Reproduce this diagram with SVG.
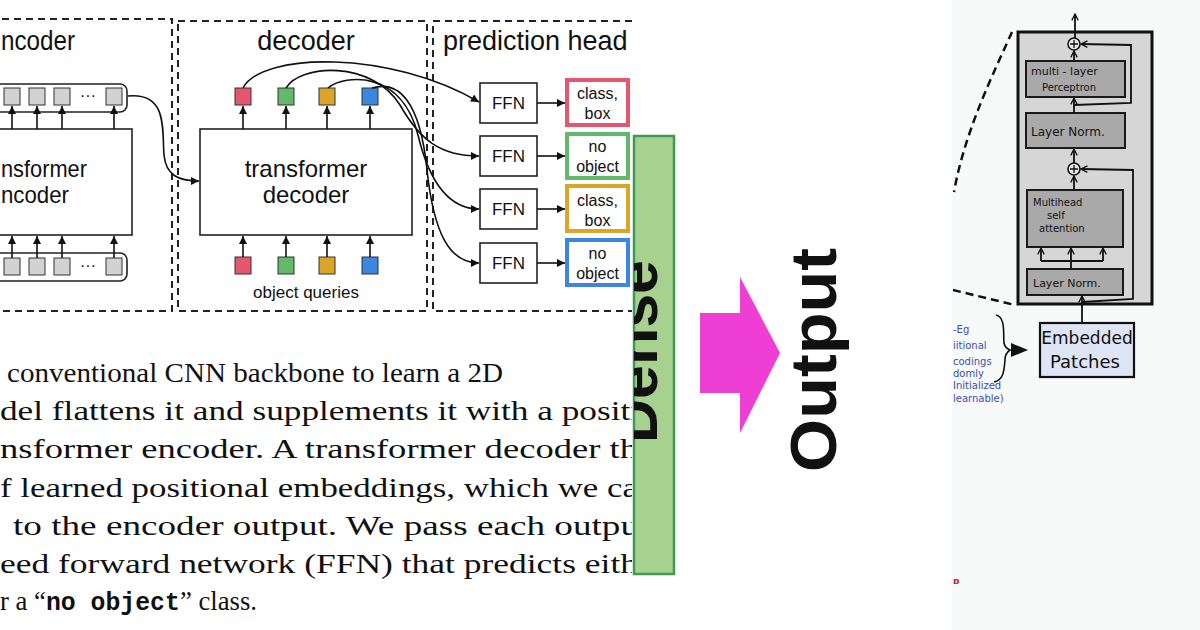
<svg xmlns="http://www.w3.org/2000/svg" width="1200" height="630" viewBox="0 0 1200 630">
<style>
.sans{font-family:"Liberation Sans",Arial,sans-serif;fill:#111}
.hd{font-size:27px}
.box{fill:#fff;stroke:#222;stroke-width:1.6}
.sq{stroke:#333;stroke-width:1}
.gray{fill:#d2d2d2}
.dash{fill:none;stroke:#222;stroke-width:2;stroke-dasharray:7 5}
.conn{fill:none;stroke:#111;stroke-width:1.6}
.para{font-family:"Liberation Serif","Times New Roman",serif;font-size:28px;fill:#111}
.mono{font-family:"Liberation Mono","Courier New",monospace}
.hand{font-family:"DejaVu Sans",sans-serif;fill:#111}
.blue{font-family:"DejaVu Sans",sans-serif;fill:#3a4fb0;font-size:10px}
.hbox{fill:#a9a9a9;stroke:#1a1a1a;stroke-width:2}
.hl{fill:none;stroke:#111;stroke-width:1.8}
</style>
<defs>
<marker id="ah" viewBox="0 0 10 10" refX="10" refY="5" markerWidth="9" markerHeight="8" markerUnits="userSpaceOnUse" orient="auto"><path d="M0,0 L10,5 L0,10 z" fill="#111"/></marker>
<marker id="ch" viewBox="0 0 10 10" refX="9" refY="5" markerWidth="8" markerHeight="8" markerUnits="userSpaceOnUse" orient="auto"><path d="M1,1 L9,5 L1,9" fill="none" stroke="#111" stroke-width="1.6"/></marker>
<clipPath id="leftclip"><rect x="0" y="0" width="632" height="630"/></clipPath>
<clipPath id="denseclip"><rect x="634" y="136" width="40" height="438"/></clipPath>
</defs>
<rect x="0" y="0" width="1200" height="630" fill="#fff"/>
<rect x="952" y="0" width="248" height="630" fill="#f8f9f9"/>

<g clip-path="url(#leftclip)">
 <g id="frames">
  <rect class="dash" x="-10" y="19" width="182" height="292"/>
  <rect class="dash" x="178" y="21" width="249" height="290"/>
  <rect class="dash" x="433" y="21" width="220" height="290"/>
  <text class="sans hd" x="1" y="50" textLength="74" lengthAdjust="spacingAndGlyphs">ncoder</text>
  <text class="sans hd" x="306" y="50" text-anchor="middle">decoder</text>
  <text class="sans hd" x="443" y="50">prediction head</text>
 </g>
 <g id="encoder-out">
  <rect x="-12" y="84" width="139" height="28" rx="7" fill="#fff" stroke="#222" stroke-width="1.6"/>
  <rect class="sq gray" x="4" y="88" width="16" height="17"/>
  <rect class="sq gray" x="29" y="88" width="16" height="17"/>
  <rect class="sq gray" x="54" y="88" width="16" height="17"/>
  <text class="sans" x="88" y="101" font-size="16" text-anchor="middle">···</text>
  <rect class="sq gray" x="106" y="88" width="16" height="17"/>
 </g>
 <g id="encoder">
  <rect class="box" x="-80" y="129" width="212" height="106"/>
  <text class="sans" x="1" y="177" font-size="24" textLength="86" lengthAdjust="spacingAndGlyphs">nsformer</text>
  <text class="sans" x="1" y="203" font-size="24" textLength="68" lengthAdjust="spacingAndGlyphs">ncoder</text>
 </g>
 <g id="encoder-in">
  <rect x="-12" y="253" width="139" height="28" rx="7" fill="#fff" stroke="#222" stroke-width="1.6"/>
  <rect class="sq gray" x="4" y="258" width="16" height="17"/>
  <rect class="sq gray" x="29" y="258" width="16" height="17"/>
  <rect class="sq gray" x="54" y="258" width="16" height="17"/>
  <text class="sans" x="88" y="271" font-size="16" text-anchor="middle">···</text>
  <rect class="sq gray" x="106" y="258" width="16" height="17"/>
 </g>
 <g id="decoder">
  <rect class="box" x="200" y="129" width="212" height="106"/>
  <text class="sans" x="306" y="177" font-size="24" text-anchor="middle">transformer</text>
  <text class="sans" x="306" y="203" font-size="24" text-anchor="middle">decoder</text>
 </g>
 <g id="decoder-out">
  <rect class="sq" fill="#e5576f" x="235" y="88" width="16" height="17"/>
  <rect class="sq" fill="#62b86b" x="278" y="88" width="16" height="17"/>
  <rect class="sq" fill="#daa52a" x="319" y="88" width="16" height="17"/>
  <rect class="sq" fill="#3a86e0" x="362" y="88" width="16" height="17"/>
 </g>
 <g id="object-queries">
  <rect class="sq" fill="#e5576f" x="235" y="257" width="16" height="17"/>
  <rect class="sq" fill="#62b86b" x="278" y="257" width="16" height="17"/>
  <rect class="sq" fill="#daa52a" x="319" y="257" width="16" height="17"/>
  <rect class="sq" fill="#3a86e0" x="362" y="257" width="16" height="17"/>
  <text class="sans" x="306" y="298" font-size="17" text-anchor="middle">object queries</text>
 </g>
 <g id="ffn1"><rect class="box" x="480" y="83" width="57" height="40"/><text class="sans" x="508.5" y="109" font-size="17" text-anchor="middle">FFN</text></g>
 <g id="ffn2"><rect class="box" x="480" y="136" width="57" height="40"/><text class="sans" x="508.5" y="162" font-size="17" text-anchor="middle">FFN</text></g>
 <g id="ffn3"><rect class="box" x="480" y="189" width="57" height="40"/><text class="sans" x="508.5" y="215" font-size="17" text-anchor="middle">FFN</text></g>
 <g id="ffn4"><rect class="box" x="480" y="243" width="57" height="40"/><text class="sans" x="508.5" y="269" font-size="17" text-anchor="middle">FFN</text></g>
 <g id="out1"><rect x="567" y="80" width="61" height="45" fill="#fff" stroke="#e5576f" stroke-width="4"/><text class="sans" x="597.5" y="99" font-size="16" text-anchor="middle">class,</text><text class="sans" x="597.5" y="119" font-size="16" text-anchor="middle">box</text></g>
 <g id="out2"><rect x="567" y="134" width="61" height="44" fill="#fff" stroke="#62b86b" stroke-width="4"/><text class="sans" x="597.5" y="152" font-size="16" text-anchor="middle">no</text><text class="sans" x="597.5" y="172" font-size="16" text-anchor="middle">object</text></g>
 <g id="out3"><rect x="567" y="186" width="61" height="45" fill="#fff" stroke="#daa52a" stroke-width="4"/><text class="sans" x="597.5" y="206" font-size="16" text-anchor="middle">class,</text><text class="sans" x="597.5" y="226" font-size="16" text-anchor="middle">box</text></g>
 <g id="out4"><rect x="567" y="240" width="61" height="45" fill="#fff" stroke="#3a86e0" stroke-width="4"/><text class="sans" x="597.5" y="259" font-size="16" text-anchor="middle">no</text><text class="sans" x="597.5" y="279" font-size="16" text-anchor="middle">object</text></g>

 <g id="connectors">
  <line class="conn" x1="12" y1="129" x2="12" y2="106" marker-end="url(#ah)"/>
  <line class="conn" x1="37" y1="129" x2="37" y2="106" marker-end="url(#ah)"/>
  <line class="conn" x1="62" y1="129" x2="62" y2="106" marker-end="url(#ah)"/>
  <line class="conn" x1="114" y1="129" x2="114" y2="106" marker-end="url(#ah)"/>
  <line class="conn" x1="12" y1="258" x2="12" y2="236" marker-end="url(#ah)"/>
  <line class="conn" x1="37" y1="258" x2="37" y2="236" marker-end="url(#ah)"/>
  <line class="conn" x1="62" y1="258" x2="62" y2="236" marker-end="url(#ah)"/>
  <line class="conn" x1="114" y1="258" x2="114" y2="236" marker-end="url(#ah)"/>
  <path class="conn" d="M128,96 C168,92 162,130 164,155 C166,175 178,181 199,181" marker-end="url(#ah)"/>
  <line class="conn" x1="243" y1="129" x2="243" y2="106" marker-end="url(#ah)"/>
  <line class="conn" x1="286" y1="129" x2="286" y2="106" marker-end="url(#ah)"/>
  <line class="conn" x1="327" y1="129" x2="327" y2="106" marker-end="url(#ah)"/>
  <line class="conn" x1="370" y1="129" x2="370" y2="106" marker-end="url(#ah)"/>
  <line class="conn" x1="243" y1="257" x2="243" y2="236" marker-end="url(#ah)"/>
  <line class="conn" x1="286" y1="257" x2="286" y2="236" marker-end="url(#ah)"/>
  <line class="conn" x1="327" y1="257" x2="327" y2="236" marker-end="url(#ah)"/>
  <line class="conn" x1="370" y1="257" x2="370" y2="236" marker-end="url(#ah)"/>
  <path class="conn" d="M243,88 C262,52 390,50 479,102" marker-end="url(#ah)"/>
  <path class="conn" d="M286,88 C300,64 372,60 400,105 C420,140 440,156 479,156" marker-end="url(#ah)"/>
  <path class="conn" d="M328,88 C345,74 402,70 418,135 C430,185 450,209 479,209" marker-end="url(#ah)"/>
  <path class="conn" d="M372,88 C398,80 420,100 427,170 C434,235 450,263 479,263" marker-end="url(#ah)"/>
  <line class="conn" x1="537" y1="103" x2="565" y2="103" marker-end="url(#ah)"/>
  <line class="conn" x1="537" y1="156" x2="565" y2="156" marker-end="url(#ah)"/>
  <line class="conn" x1="537" y1="209" x2="565" y2="209" marker-end="url(#ah)"/>
  <line class="conn" x1="537" y1="263" x2="565" y2="263" marker-end="url(#ah)"/>
 </g>

 <g id="paragraph">
  <text class="para" x="7" y="382" textLength="496" lengthAdjust="spacingAndGlyphs">conventional CNN backbone to learn a 2D</text>
  <text class="para" x="0" y="420" textLength="640" lengthAdjust="spacingAndGlyphs">del flattens it and supplements it with a positi</text>
  <text class="para" x="0" y="458" textLength="638" lengthAdjust="spacingAndGlyphs">nsformer encoder. A transformer decoder th</text>
  <text class="para" x="0" y="497" textLength="638" lengthAdjust="spacingAndGlyphs">f learned positional embeddings, which we ca</text>
  <text class="para" x="13" y="535" textLength="626" lengthAdjust="spacingAndGlyphs">to the encoder output. We pass each outpu</text>
  <text class="para" x="0" y="573" textLength="638" lengthAdjust="spacingAndGlyphs">eed forward network (FFN) that predicts eith</text>
  <text class="para" x="0" y="610" textLength="257" lengthAdjust="spacingAndGlyphs">r a “<tspan class="mono" font-size="26" font-weight="bold">no object</tspan>” class.</text>
 </g>
</g>

<g id="dense">
 <rect x="634" y="136" width="40" height="438" fill="#a6d18e" stroke="#3f9a55" stroke-width="2.5"/>
 <g clip-path="url(#denseclip)">
  <text transform="translate(657,443) rotate(-90)" font-family="Liberation Sans, Arial, sans-serif" font-weight="bold" font-size="62" fill="#111" textLength="183" lengthAdjust="spacingAndGlyphs">Dense</text>
 </g>
</g>
<g id="pink-arrow">
 <polygon points="700,313 740,313 740,277 780,353 740,433 740,393 700,393" fill="#ef3ed4"/>
</g>
<g id="output">
 <text transform="translate(836,472) rotate(-90)" font-family="Liberation Sans, Arial, sans-serif" font-weight="bold" font-size="64" fill="#111" textLength="224" lengthAdjust="spacingAndGlyphs">Output</text>
</g>

<g id="vit-block">
 <rect x="1018" y="32" width="134" height="272" fill="#d6d6d6" stroke="#111" stroke-width="3"/>
</g>
<g id="mlp"><rect class="hbox" x="1026" y="61" width="99" height="36"/>
 <text class="hand" x="1031" y="75" font-size="11">multi - layer</text>
 <text class="hand" x="1042" y="91" font-size="10">Perceptron</text></g>
<g id="norm1"><rect class="hbox" x="1026" y="113" width="99" height="35"/>
 <text class="hand" x="1031" y="136" font-size="12">Layer Norm.</text></g>
<g id="mhsa"><rect class="hbox" x="1027" y="190" width="96" height="57"/>
 <text class="hand" x="1033" y="206" font-size="10">Multihead</text>
 <text class="hand" x="1047" y="219" font-size="10">self</text>
 <text class="hand" x="1039" y="232" font-size="10">attention</text></g>
<g id="norm2"><rect class="hbox" x="1027" y="269" width="96" height="26"/>
 <text class="hand" x="1033" y="287" font-size="11">Layer Norm.</text></g>
<g id="plus1"><circle cx="1074" cy="44" r="6" fill="#e8e8e8" stroke="#111" stroke-width="1.6"/><path d="M1074,40 V48 M1070,44 H1078" stroke="#111" stroke-width="1.3"/></g>
<g id="plus2"><circle cx="1074" cy="169" r="6" fill="#e8e8e8" stroke="#111" stroke-width="1.6"/><path d="M1074,165 V173 M1070,169 H1078" stroke="#111" stroke-width="1.3"/></g>
<g id="embedded"><rect x="1040" y="323" width="94" height="54" fill="#dde4f3" stroke="#111" stroke-width="2.2"/>
 <text class="hand" x="1087" y="344" font-size="17" text-anchor="middle">Embedded</text>
 <text class="hand" x="1085" y="368" font-size="18" text-anchor="middle">Patches</text></g>
<g id="pos-note">
 <text class="blue" x="953" y="333" font-size="13">-Eg</text>
 <text class="blue" x="953" y="349" font-size="11">iitional</text>
 <text class="blue" x="953" y="365" font-size="12">codings</text>
 <text class="blue" x="953" y="377" font-size="9">domly</text>
 <text class="blue" x="953" y="389" font-size="10">Initialized</text>
 <text class="blue" x="953" y="402" font-size="10">learnable)</text>
 <path d="M996,315 C1006,317 1003,335 1004,343 C1005,348 1008,349 1010,350 C1007,352 1005,354 1005,360 C1004,370 1004,380 994,382" fill="none" stroke="#111" stroke-width="1.6"/>
 <polygon points="1011,343 1028,350 1011,357" fill="#111"/>
 <text x="953" y="584" font-family="DejaVu Sans, sans-serif" font-size="9" font-weight="bold" fill="#c3222a">ɒ</text>
</g>
<g id="vit-connectors">
 <path d="M1012,32 C995,70 965,130 954,192" fill="none" stroke="#111" stroke-width="2.5" stroke-dasharray="8 5"/>
 <path d="M953,290 L1015,305" fill="none" stroke="#111" stroke-width="2.5" stroke-dasharray="8 5"/>
 <line class="hl" x1="1075" y1="38" x2="1075" y2="14" marker-end="url(#ch)"/>
 <line class="hl" x1="1074" y1="61" x2="1074" y2="51" marker-end="url(#ch)"/>
 <line class="hl" x1="1074" y1="113" x2="1074" y2="98" marker-end="url(#ch)"/>
 <path class="hl" d="M1074,105 L1131,103 L1131,45 L1081,44" marker-end="url(#ch)"/>
 <line class="hl" x1="1074" y1="163" x2="1074" y2="149" marker-end="url(#ch)"/>
 <line class="hl" x1="1074" y1="190" x2="1074" y2="176" marker-end="url(#ch)"/>
 <path class="hl" d="M1082,302 L1133,299 L1133,170 L1081,169" marker-end="url(#ch)"/>
 <line class="hl" x1="1082" y1="323" x2="1082" y2="296" marker-end="url(#ch)"/>
 <path class="hl" d="M1071,269 L1071,261 M1041,261 L1103,261"/>
 <line class="hl" x1="1041" y1="261" x2="1041" y2="248" marker-end="url(#ch)"/>
 <line class="hl" x1="1071" y1="261" x2="1071" y2="248" marker-end="url(#ch)"/>
 <line class="hl" x1="1103" y1="261" x2="1103" y2="248" marker-end="url(#ch)"/>
</g>
</svg>
